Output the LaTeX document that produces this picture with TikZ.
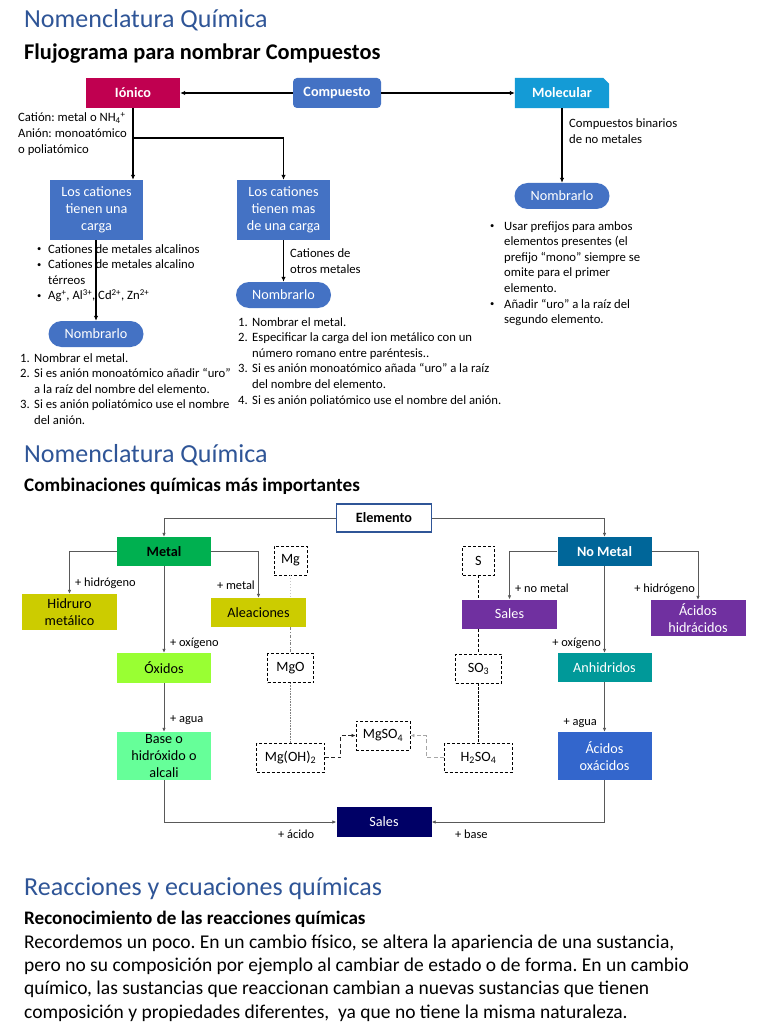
\documentclass[tikz,border=0pt]{standalone}
\usepackage{fontspec}
\setmainfont{Carlito}
\usetikzlibrary{arrows.meta,backgrounds}
\definecolor{titleblue}{HTML}{2F5597}
\definecolor{ionred}{HTML}{C00050}
\definecolor{boxblue}{HTML}{4472C4}
\definecolor{molblue}{HTML}{149BD6}
\definecolor{metalg}{HTML}{00B050}
\definecolor{olivey}{HTML}{CCCC00}
\definecolor{oxg}{HTML}{99FF33}
\definecolor{baseg}{HTML}{66FF99}
\definecolor{navyb}{HTML}{000066}
\definecolor{nometalb}{HTML}{006699}
\definecolor{purp}{HTML}{7030A0}
\definecolor{tealb}{HTML}{009999}
\definecolor{oxab}{HTML}{3366CC}
\definecolor{linegray}{HTML}{595959}
\frenchspacing
\newcommand{\mylines}[1]{\begin{tabular}[t]{@{}l@{}}#1\end{tabular}}
\newcommand{\fsmall}{\fontsize{12.7}{15.6}\selectfont}
\newcommand{\fmid}{\fontsize{14.2}{17}\selectfont}
\newcommand{\flab}{\fontsize{12.4}{15}\selectfont}
\newcommand{\ftitle}{\fontsize{26}{30}\selectfont}
\newcommand{\mybul}{\raisebox{0.2ex}{\fontsize{8.5}{8.5}\selectfont•}}
\begin{document}
\begin{tikzpicture}[x=1pt,y=-1pt,
  tline/.style={black,line width=1.4pt,-{Latex[length=5pt,width=4.5pt]}},
  mline/.style={linegray,line width=1pt,-{Latex[length=4pt,width=3.6pt]}},
  bx/.style={inner sep=0pt, align=center, font=\fmid},
  topbx/.style={bx, fill=boxblue, text=white, minimum width=93pt, minimum height=60pt},
  pill/.style={bx, fill=boxblue, text=white, rounded corners=13pt, minimum width=95pt, minimum height=26pt},
  mbx/.style={bx, minimum width=94pt, minimum height=29pt},
  dbx/.style={bx, draw=black, dash pattern=on 3pt off 2pt, line width=0.9pt, minimum height=29pt},
  lab/.style={inner sep=0pt, font=\flab, text height=9pt, text depth=3pt},
  txt/.style={inner sep=0pt, anchor=base west},
]
\useasboundingbox (0,0) rectangle (768,1024);
\begin{scope}[on background layer]
\fill[white] (0,0) rectangle (768,1024);
\end{scope}

% ---------- top flowchart ----------
\node[txt, font=\ftitle, text=titleblue] (t1) at (24,28) {Nomenclatura Química};
\node[txt, font=\bfseries\fontsize{22.4}{26}\selectfont] (t2) at (24,60) {Flujograma para nombrar Compuestos};

\node[bx, fill=ionred, text=white, font=\bfseries\fmid, minimum width=94pt, minimum height=30pt] (ionico) at (133,93) {Iónico};
\node[bx, fill=boxblue, text=white, font=\bfseries\fmid, minimum width=88pt, minimum height=30pt, rounded corners=4pt] (compuesto) at (337,93) {Compuesto};
\node[bx, text=white, font=\bfseries\fmid, minimum width=94pt, minimum height=30pt] (molecular) at (562,93) {Molecular};
\begin{scope}[on background layer]
\fill[molblue] (molecular.south west) -- (molecular.north west) -- ([xshift=-6pt]molecular.north east) -- ([yshift=-6pt]molecular.north east) -- (molecular.south east) -- cycle;
\end{scope}

\node[txt, font=\fsmall] (ionlab) at (18,122) {\mylines{Catión: metal o NH\textsubscript{4}\textsuperscript{+}\\Anión: monoatómico\\o poliatómico}};

\node[topbx] (box1) at (96.5,210) {Los cationes\\tienen una\\carga};
\node[topbx] (box2) at (283.5,210) {Los cationes\\tienen mas\\de una carga};

\node[txt, font=\fsmall] (bul1) at (37,253) {\mylines{\makebox[11pt][l]{\mybul}Cationes de metales alcalinos\\ \makebox[11pt][l]{\mybul}Cationes de metales alcalino\\ \hspace{11pt}térreos\\ \makebox[11pt][l]{\mybul}Ag\textsuperscript{+}, Al\textsuperscript{3+}, Cd\textsuperscript{2+}, Zn\textsuperscript{2+}}};

\node[pill] (nom1) at (96,334) {Nombrarlo};
\node[txt, font=\fsmall] (list1) at (20,362) {\mylines{\makebox[14pt][l]{1.}Nombrar el metal.\\ \makebox[14pt][l]{2.}Si es anión monoatómico añadir “uro”\\ \hspace{14pt}a la raíz del nombre del elemento.\\ \makebox[14pt][l]{3.}Si es anión poliatómico use el nombre\\ \hspace{14pt}del anión.}};

\node[txt, font=\fsmall] (lab2) at (290,258) {\mylines{Cationes de\\otros metales}};
\node[pill] (nom2) at (283.5,295) {Nombrarlo};
\node[txt, font=\fsmall] (list2) at (238,326) {\mylines{\makebox[14pt][l]{1.}Nombrar el metal.\\ \makebox[14pt][l]{2.}Especificar la carga del ion metálico con un\\ \hspace{14pt}número romano entre paréntesis..\\ \makebox[14pt][l]{3.}Si es anión monoatómico añada “uro” a la raíz\\ \hspace{14pt}del nombre del elemento.\\ \makebox[14pt][l]{4.}Si es anión poliatómico use el nombre del anión.}};

\node[txt, font=\fsmall] (mollab) at (569,128) {\mylines{Compuestos binarios\\de no metales}};
\node[pill] (nom3) at (562,196) {Nombrarlo};
\node[txt, font=\fsmall] (molbul) at (490,230) {\mylines{\makebox[14pt][l]{\mybul}Usar prefijos para ambos\\ \hspace{14pt}elementos presentes (el\\ \hspace{14pt}prefijo “mono” siempre se\\ \hspace{14pt}omite para el primer\\ \hspace{14pt}elemento.\\ \makebox[14pt][l]{\mybul}Añadir “uro” a la raíz del\\ \hspace{14pt}segundo elemento.}};

\coordinate (br) at (133,138);
\draw[tline] (compuesto.west) -- (ionico.east);
\draw[tline] (compuesto.east) -- (molecular.west);
\draw[tline] (ionico.south) -- (ionico.south |- box1.north);
\draw[tline] (br) -| (box2.north);
\draw[tline] (nom1.north |- box1.south) -- (nom1.north);
\draw[tline] (box2.south) -- (nom2.north);
\draw[tline] (molecular.south) -- (nom3.north);

% ---------- middle diagram ----------
\node[txt, font=\ftitle, text=titleblue] (t3) at (24,462) {Nomenclatura Química};
\node[txt, font=\bfseries\fontsize{19.2}{22}\selectfont] (t4) at (24,491) {Combinaciones químicas más importantes};

\node[bx, draw=titleblue, line width=1.3pt, fill=white, font=\bfseries\fmid, minimum width=95pt, minimum height=28pt] (elemento) at (384,518) {Elemento};
\node[mbx, fill=metalg, font=\bfseries\fmid] (metal) at (164,551.5) {Metal};
\node[mbx, fill=olivey, minimum width=95pt, minimum height=36pt] (hidruro) at (69.5,612) {Hidruro\\metálico};
\node[mbx, fill=olivey, minimum width=95pt] (alea) at (258.5,612.5) {Aleaciones};
\node[mbx, fill=oxg, minimum height=30pt] (oxidos) at (164,668) {Óxidos};
\node[mbx, fill=baseg, minimum height=48pt] (base) at (164,756) {Base o\\hidróxido o\\alcali};
\node[mbx, fill=navyb, text=white, minimum width=95pt, minimum height=30pt] (sales2) at (384,822) {Sales};
\node[mbx, fill=nometalb, text=white, font=\bfseries\fmid] (nometal) at (604.5,551.5) {No Metal};
\node[mbx, fill=purp, text=white, minimum width=95pt] (salesp) at (509.5,614) {Sales};
\node[mbx, fill=purp, text=white, minimum width=95pt, minimum height=36pt] (acidh) at (698,618) {Ácidos\\hidrácidos};
\node[mbx, fill=tealb, text=white] (anh) at (604.5,667.5) {Anhidridos};
\node[mbx, fill=oxab, text=white, minimum height=48pt] (acido) at (604.5,756) {Ácidos\\oxácidos};

\node[dbx, minimum width=33pt] (mg) at (290.5,560.5) {Mg};
\node[dbx, minimum width=46pt] (mgo) at (290.5,668) {MgO};
\node[dbx, minimum width=68pt] (mgoh) at (290.5,757.5) {Mg(OH)\textsubscript{2}};
\node[dbx, minimum width=54pt] (mgso) at (383,735.5) {MgSO\textsubscript{4}};
\node[dbx, minimum width=32pt] (s) at (478.5,560.5) {S};
\node[dbx, minimum width=46pt] (so3) at (478.5,668.5) {SO\textsubscript{3}};
\node[dbx, minimum width=68pt] (h2so4) at (478.5,757.5) {H\textsubscript{2}SO\textsubscript{4}};

\draw[mline] (elemento.west) -| (metal.north);
\draw[mline] (elemento.east) -| (nometal.north);
\draw[mline] (metal.west) -| (hidruro.north);
\draw[mline] (metal.east) -| (alea.north);
\draw[mline] (metal.south) -- (oxidos.north);
\draw[mline] (oxidos.south) -- (base.north);
\draw[mline] (base.south) |- (sales2.west);
\draw[mline] (acido.south) |- (sales2.east);
\draw[mline] (nometal.west) -| (salesp.north);
\draw[mline] (nometal.east) -| (acidh.north);
\draw[mline] (nometal.south) -- (anh.north);
\draw[mline] (anh.south) -- (acido.north);

\draw[gray!45, dotted, line width=0.9pt] (mg.south) -- (mg.south |- alea.north);
\draw[gray, dash dot, line width=0.6pt] (mg.south |- alea.south) -- (mgo.north);
\draw[gray, densely dotted, line width=0.6pt] (mgo.south) -- (mgoh.north);
\draw[black, dash pattern=on 3pt off 2pt, line width=0.9pt] (s.south) -- (s.south |- salesp.north);
\draw[black, dash pattern=on 3pt off 2pt, line width=0.9pt] (s.south |- salesp.south) -- (so3.north);
\draw[black, dash pattern=on 2.5pt off 1.5pt, line width=0.9pt] (so3.south) -- (h2so4.north);
\draw[black!85, dash pattern=on 4pt off 2.5pt, line width=1pt, -{Latex[length=4pt,width=3.6pt]}] (mgoh.east) -- ++(16,0) |- (mgso.west);
\draw[gray!70, dash pattern=on 4pt off 2.5pt, line width=1pt, -{Latex[length=4pt,width=3.6pt]}] (h2so4.west) -- ++(-18,0) |- (mgso.east);

\node[lab, anchor=west] (l1) at (75,583) {+ hidrógeno};
\node[lab, anchor=east] (l2) at (255,586) {+ metal};
\node[lab, anchor=west] (l3) at (170,643) {+ oxígeno};
\node[lab, anchor=west] (l4) at (170,719) {+ agua};
\node[lab, anchor=west] (l5) at (278,835) {+ ácido};
\node[lab, anchor=west] (l6) at (455,835) {+ base};
\node[lab, anchor=west] (l7) at (515,589) {+ no metal};
\node[lab, anchor=east] (l8) at (695,589) {+ hidrógeno};
\node[lab, anchor=east] (l9) at (601,643) {+ oxígeno};
\node[lab, anchor=east] (l10) at (597,722) {+ agua};

% ---------- bottom text ----------
\node[txt, font=\ftitle, text=titleblue] (t5) at (24,895) {Reacciones y ecuaciones químicas};
\node[txt, font=\bfseries\fontsize{19.1}{22}\selectfont] (t6) at (24,924) {Reconocimiento de las reacciones químicas};
\node[txt, font=\fontsize{19.5}{23.4}\selectfont] (body) at (24,948) {\mylines{Recordemos un poco. En un cambio físico, se altera la apariencia de una sustancia,\\pero no su composición por ejemplo al cambiar de estado o de forma. En un cambio\\químico, las sustancias que reaccionan cambian a nuevas sustancias que tienen\\composición y propiedades diferentes,~ ya que no tiene la misma naturaleza.}};
\end{tikzpicture}
\end{document}
